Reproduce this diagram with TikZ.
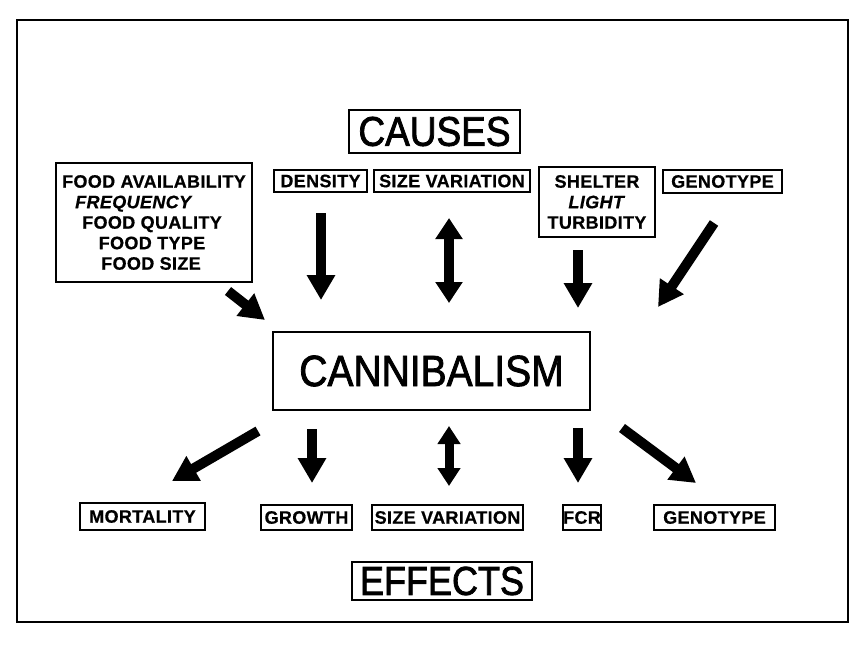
\documentclass[tikz,border=0pt]{standalone}
\usepackage{fontspec}
\setmainfont{Liberation Sans}
\newfontfamily\labfont[LetterSpace=2,
  BoldFeatures={FakeBold=0.6}, BoldItalicFeatures={FakeBold=0.6}]{Liberation Sans}
\newfontfamily\bigfont[FakeBold=2]{Liberation Sans}
\usetikzlibrary{arrows.meta}
\tikzset{
  box/.style={draw, line width=2pt, inner sep=0pt, align=center,
    font=\labfont\fontsize{18}{20.5}\selectfont\bfseries},
  bigbox/.style={draw, line width=1.6pt, inner sep=0pt, font=\bigfont},
  fat/.style={line width=10pt, -{Triangle[width=27pt,length=25pt]}},
  fatboth/.style={line width=10pt, {Triangle[width=26pt,length=21pt]}-{Triangle[width=26pt,length=21pt]}},
  fatsmall/.style={line width=9pt, {Triangle[width=22pt,length=18pt]}-{Triangle[width=22pt,length=18pt]}},
}
\begin{document}
\begin{tikzpicture}[x=1pt,y=-1pt]
\useasboundingbox (0,0) rectangle (864,656);
% outer frame
\draw[line width=1.5pt] (17,20) rectangle (848,622);

% headers
\node[bigbox, minimum width=171pt, minimum height=43pt] (causes) at (434.5,131.5)
  {\fontsize{37}{40}\selectfont\scalebox{1}[1.12]{CAUSES}};
\node[bigbox, minimum width=180pt, minimum height=38pt] (effects) at (442,581)
  {\fontsize{36}{40}\selectfont\scalebox{1}[1.12]{EFFECTS}};
\node[bigbox, minimum width=317pt, minimum height=78pt] (cann) at (431.5,371)
  {\fontsize{39}{42}\selectfont\scalebox{1}[1.12]{CANNIBALISM}};

% cause boxes
\node[box, minimum width=196pt, minimum height=119pt] (food) at (154,222.5)
  {FOOD AVAILABILITY\\ \textit{FREQUENCY}\kern40pt\\ FOOD QUALITY\kern4pt\\ FOOD TYPE\kern4pt\\ FOOD SIZE\kern6pt};
\node[box, minimum width=93pt, minimum height=22pt] (density) at (320.5,181) {DENSITY};
\node[box, minimum width=156pt, minimum height=22pt] (sizevar) at (452,181) {SIZE VARIATION};
\node[box, minimum width=116pt, minimum height=70pt] (shelter) at (597,202)
  {SHELTER\\ \textit{LIGHT}\\ TURBIDITY};
\node[box, minimum width=119pt, minimum height=23pt] (genotop) at (722.5,181.5) {GENOTYPE};

% effect boxes
\node[box, minimum width=125pt, minimum height=27pt] (mort) at (142.5,516.5) {MORTALITY};
\node[box, minimum width=91pt, minimum height=25pt] (growth) at (306.5,517.5) {GROWTH};
\node[box, minimum width=151pt, minimum height=25pt] (sizevarb) at (447.5,517.5) {SIZE VARIATION};
\node[box, minimum width=38pt, minimum height=25pt] (fcr) at (582,517.5) {FCR};
\node[box, minimum width=121pt, minimum height=25pt] (genobot) at (714.5,517.5) {GENOTYPE};

% arrow end points
\coordinate (a1s) at (228,291); \coordinate (a1e) at (265,320);
\coordinate (a2s) at (321,213); \coordinate (a2e) at (321,300);
\coordinate (a3s) at (449,218); \coordinate (a3e) at (449,303);
\coordinate (a4s) at (578,250); \coordinate (a4e) at (578,308);
\coordinate (a5s) at (714,223); \coordinate (a5e) at (658,307);
\coordinate (b1s) at (258,431); \coordinate (b1e) at (172,481);
\coordinate (b2s) at (312,429); \coordinate (b2e) at (312,483);
\coordinate (b3s) at (449,426); \coordinate (b3e) at (449,486);
\coordinate (b4s) at (578,428); \coordinate (b4e) at (578,483);
\coordinate (b5s) at (622,428); \coordinate (b5e) at (696,483);

\draw[fat] (a1s) -- (a1e);
\draw[fat] (a2s) -- (a2e);
\draw[fatboth] (a3s) -- (a3e);
\draw[fat] (a4s) -- (a4e);
\draw[fat] (a5s) -- (a5e);
\draw[fat] (b1s) -- (b1e);
\draw[fat] (b2s) -- (b2e);
\draw[fatsmall] (b3s) -- (b3e);
\draw[fat] (b4s) -- (b4e);
\draw[fat] (b5s) -- (b5e);
\end{tikzpicture}
\end{document}
